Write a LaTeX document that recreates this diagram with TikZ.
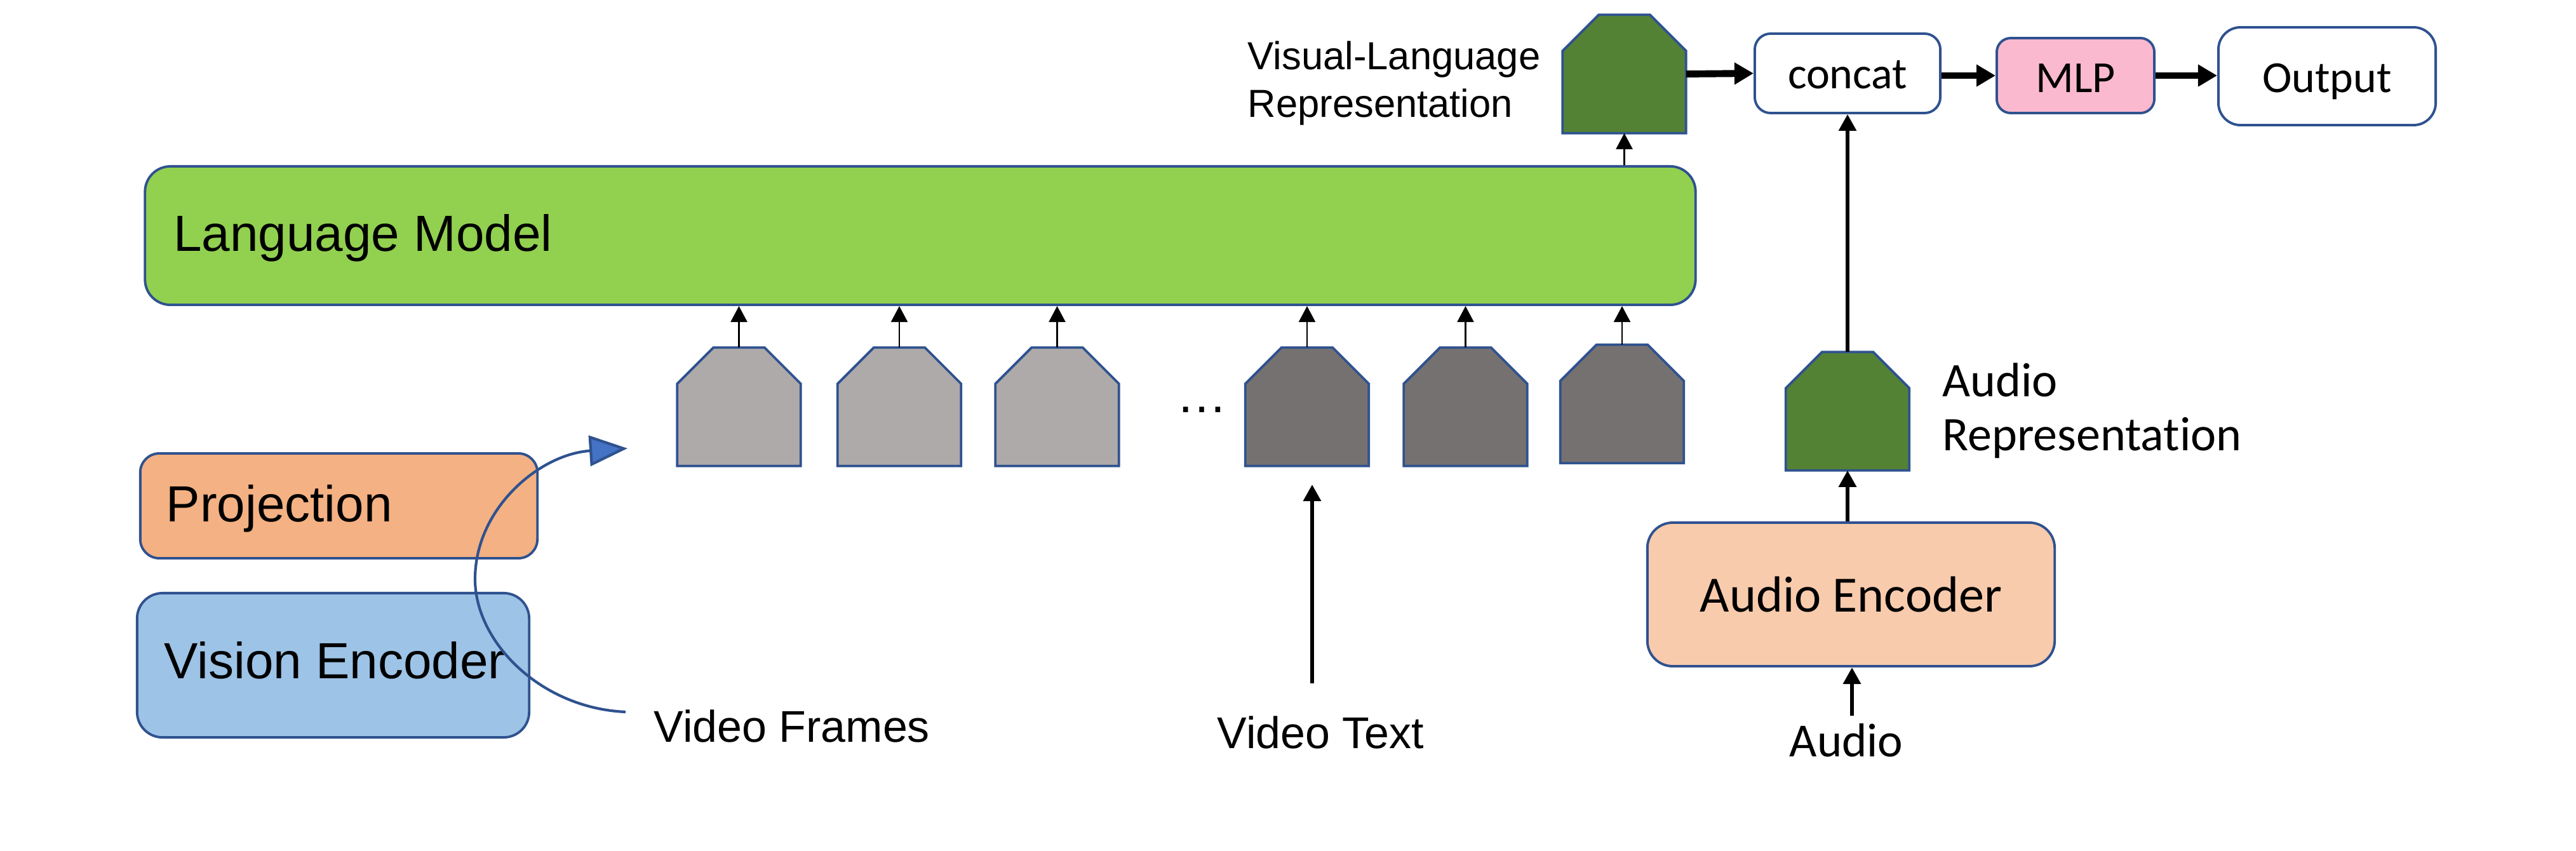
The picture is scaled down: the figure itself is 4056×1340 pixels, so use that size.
\documentclass[tikz,border=0pt]{standalone}
\usepackage{fontspec}
\setmainfont{Liberation Sans}
\newfontfamily\calibrifont[Ligatures=NoCommon]{Carlito}
\usetikzlibrary{arrows.meta,calc}
\definecolor{edgeblue}{HTML}{2F528F}
\definecolor{arrowblue}{HTML}{4472C4}
\definecolor{lmgreen}{HTML}{92D050}
\definecolor{projorange}{HTML}{F4B183}
\definecolor{visblue}{HTML}{9DC3E6}
\definecolor{audorange}{HTML}{F8CBAD}
\definecolor{mlppink}{HTML}{FBB9CF}
\definecolor{repgreen}{HTML}{548235}
\definecolor{toklight}{HTML}{AEAAAA}
\definecolor{tokdark}{HTML}{767171}
\newcommand\fntA{\fontsize{22.76pt}{27pt}\selectfont}
\newcommand\fntB{\fontsize{19.9pt}{24pt}\selectfont}
\newcommand\fntVL{\fontsize{17.5pt}{21.3pt}\selectfont}
\newcommand\fntCA{\calibrifont\fontsize{22.76pt}{27pt}\selectfont}
\newcommand\fntCB{\calibrifont\fontsize{19.9pt}{24pt}\selectfont}
\newcommand\fntCR{\calibrifont\fontsize{21.6pt}{24.2pt}\selectfont}
\newcommand\fntCD{\calibrifont\fontsize{21.3pt}{24pt}\selectfont}
\newcommand\chamfshape[2]{\path[fill=#2, draw=edgeblue, line width=1.1pt, line join=miter]
  (#1.south west) -- (#1.south east) -- ([yshift=-0.57cm]#1.north east)
  -- ([xshift=-0.57cm]#1.north east) -- ([xshift=0.57cm]#1.north west)
  -- ([yshift=-0.57cm]#1.north west) -- cycle;}
\begin{document}
\begin{tikzpicture}[x=0.01cm, y=-0.01cm,
  rbox/.style={draw=edgeblue, line width=1.1pt, rounded corners=#1, inner sep=0pt},
  tok/.style={inner sep=0pt, minimum width=1.93cm, minimum height=1.85cm},
  lbl/.style={inner sep=0pt},
  thinarrow/.style={draw=black, line width=0.6pt, -{Triangle[length=0.25cm,width=0.26cm]}},
  medarrow/.style={draw=black, line width=1.7pt, -{Triangle[length=0.26cm,width=0.27cm]}},
  thickarrow/.style={draw=black, line width=3.1pt, -{Triangle[length=0.3cm,width=0.33cm]}},
  curvearrow/.style={draw=edgeblue, line width=1.2pt, -{Triangle[length=0.6cm,width=0.48cm,fill=arrowblue]}}
]
\useasboundingbox[fill=white] (0,0) rectangle (4056,1340);

% main boxes
\node[rbox=0.4cm, fill=lmgreen, minimum width=24.4cm, minimum height=2.18cm,
      text height=0.48cm, text depth=0pt, font=\fntA]
      (lm) at (1449,371) {\makebox[23.5cm][l]{Language Model}};
\node[rbox=0.3cm, fill=projorange, minimum width=6.25cm, minimum height=1.65cm,
      text height=0.49cm, text depth=0pt, font=\fntA]
      (proj) at (533.5,796.5) {\makebox[5.43cm][l]{Projection}};
\node[rbox=0.4cm, fill=visblue, minimum width=6.17cm, minimum height=2.27cm,
      text height=0.41cm, text depth=0pt, font=\fntA]
      (venc) at (524.5,1047.5) {\makebox[5.31cm][l]{Vision Encoder}};
\node[rbox=0.4cm, fill=audorange, minimum width=6.41cm, minimum height=2.26cm,
      align=center, text height=0.54cm, text depth=0pt, font=\fntCA]
      (ae) at (2914.5,936) {Audio Encoder};
\node[rbox=0.25cm, fill=white, minimum width=2.92cm, minimum height=1.25cm,
      align=center, text height=0.47cm, text depth=0pt, font=\fntCB]
      (concat) at (2909,115.5) {concat};
\node[rbox=0.22cm, fill=mlppink, minimum width=2.48cm, minimum height=1.18cm,
      align=center, text height=0.52cm, text depth=0pt, font=\fntCB]
      (mlp) at (3268,119) {MLP};
\node[rbox=0.35cm, fill=white, minimum width=3.42cm, minimum height=1.54cm,
      align=center, text height=0.50cm, text depth=0pt, font=\fntCB]
      (output) at (3664,120) {Output};

% token shapes
\node[tok] (t1) at (1163.5,640.5) {};
\node[tok] (t2) at (1416,640.5) {};
\node[tok] (t3) at (1664.5,640.5) {};
\node[tok] (d1) at (2058,640.5) {};
\node[tok] (d2) at (2307.5,640.5) {};
\node[tok] (d3) at (2554,636) {};
\node[tok] (vl) at (2557.5,116.5) {};
\node[tok] (ar) at (2909,647.5) {};
\chamfshape{t1}{toklight}
\chamfshape{t2}{toklight}
\chamfshape{t3}{toklight}
\chamfshape{d1}{tokdark}
\chamfshape{d2}{tokdark}
\chamfshape{d3}{tokdark}
\chamfshape{vl}{repgreen}
\chamfshape{ar}{repgreen}

% labels
\node[lbl, anchor=base, font=\fntA] (dots) at (1893,650) {…};
\node[lbl, anchor=base west, font=\fntB] (vframes) at (1029,1169) {Video Frames};
\node[lbl, anchor=base west, font=\fntB] (vtext) at (1916,1179) {Video Text};
\node[lbl, anchor=north west, align=left, font=\fntVL] (vllabel) at (1964,64)
      {Visual-Language\\Representation};
\node[lbl, anchor=north west, align=left, font=\fntCR] (arlabel) at (3058,571)
      {Audio\\Representation};
\node[lbl, anchor=base, font=\fntCD] (audio) at (2907,1192) {Audio};

% token arrows into the language model
\foreach \t in {t1,t2,t3,d1,d2,d3}
  \draw[thinarrow] (\t.north) -- (\t.north |- lm.south);
\draw[thinarrow] (lm.north -| vl.south) -- (vl.south);

% video text arrow
\coordinate (vttail) at (2066,1076);
\coordinate (vttip) at (2066,763);
\draw[medarrow] (vttail) -- (vttip);

% audio path
\coordinate (audtail) at (2916,1127);
\draw[medarrow] (audtail) -- (audtail |- ae.south);
\draw[medarrow] (ae.north -| ar.south) -- (ar.south);
\draw[medarrow] (ar.north) -- (ar.north |- concat.south);

% top chain
\draw[thickarrow] (vl.east) -- (concat.west);
\draw[thickarrow] (concat.east |- mlp.west) -- (mlp.west);
\draw[thickarrow] (mlp.east) -- (mlp.east -| output.west);

% curved arrow from video frames
\coordinate (cstart) at (985,1121);
\coordinate (ctip) at (988,706);
\draw[curvearrow] (cstart) .. controls (850,1115) and (748,1010) .. (748,912)
                  .. controls (748,800) and (850,715) .. (ctip);
\end{tikzpicture}
\end{document}
